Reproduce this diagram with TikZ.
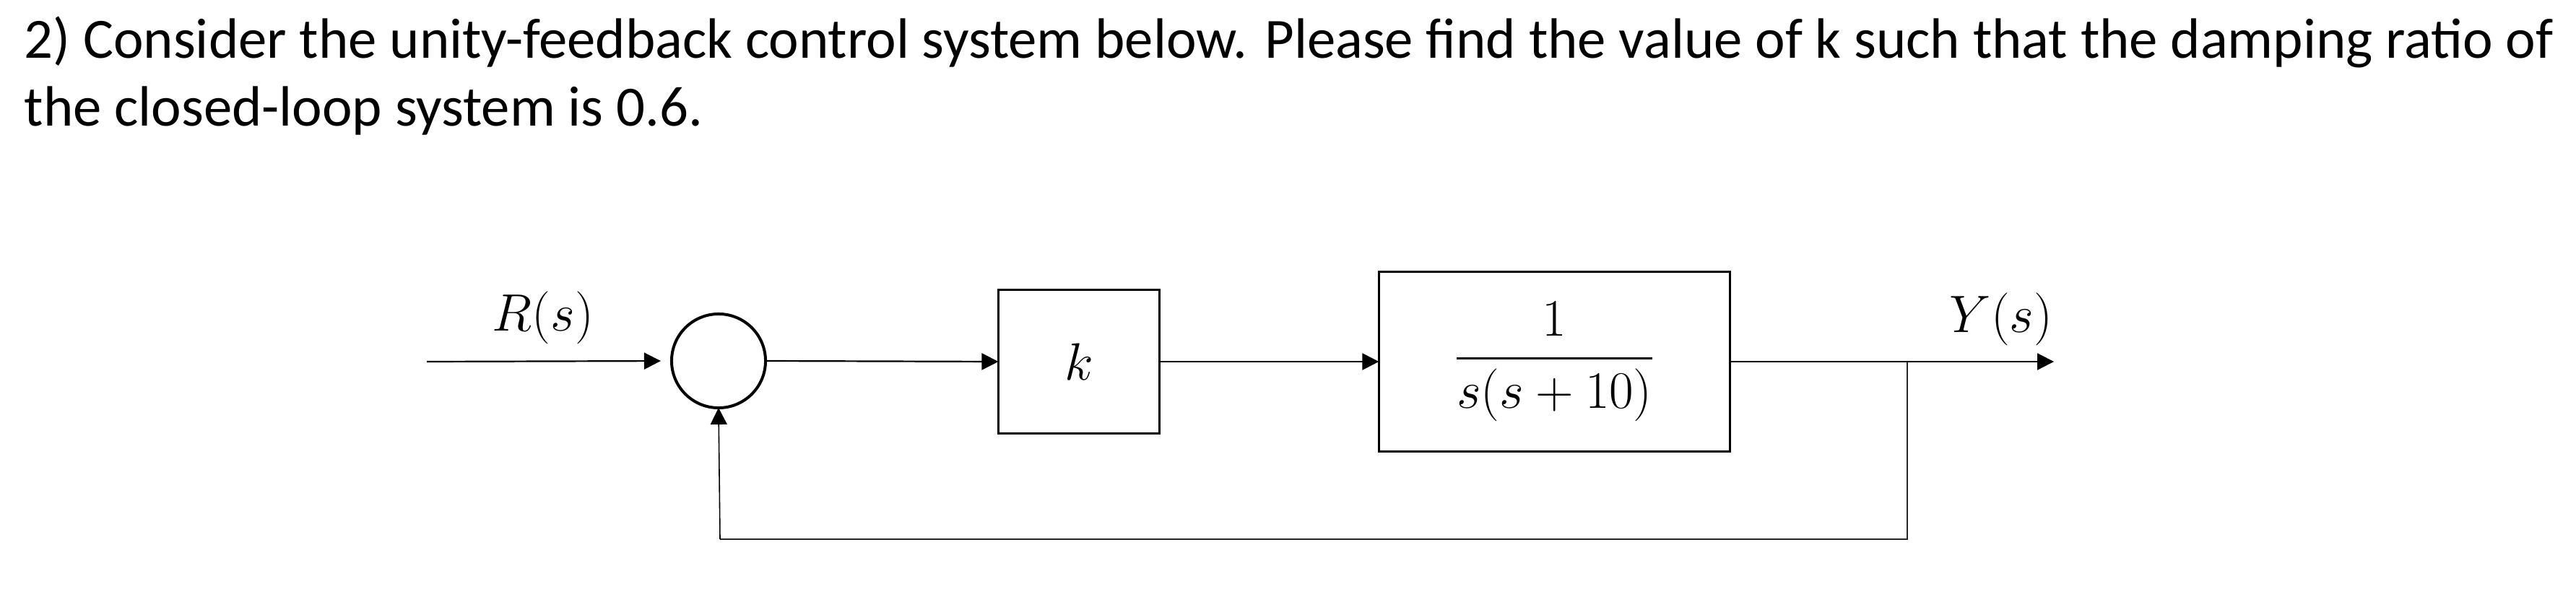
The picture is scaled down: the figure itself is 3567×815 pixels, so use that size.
\documentclass[tikz,border=0pt]{standalone}
\usepackage{amsmath}
\usepackage{fontspec}
\setmainfont{Carlito}
\usetikzlibrary{arrows.meta}
\tikzset{
  blockbox/.style={draw, line width=0.034cm, inner sep=0pt, outer sep=0pt, font=\fontsize{20}{24}\selectfont},
  sumnode/.style={draw, circle, line width=0.04cm, minimum size=1.3cm, inner sep=0pt, outer sep=0pt},
  sig/.style={line width=0.022cm, -{Triangle[length=0.23cm,width=0.23cm]}},
  fb/.style={line width=0.016cm, draw=black!85},
  lbl/.style={font=\fontsize{20}{24}\selectfont, inner sep=0pt, anchor=base},
  title/.style={font=\fontsize{22.4}{27}\selectfont, inner sep=0pt, anchor=base west}
}
\begin{document}
\begin{tikzpicture}[x={(0.01cm,0)}, y={(0,-0.01cm)}]
\useasboundingbox (0,0) rectangle (3567,815);
\node[title] (t1) at (33,80) {2) Consider the unity-feedback control system below. Please find the value of k such that the damping ratio of};
\node[title] (t2) at (33,174) {the closed-loop system is 0.6.};

\coordinate (in) at (591,501);
\node[sumnode] (sum) at (995,500) {};
\node[blockbox, minimum width=2.23cm, minimum height=1.99cm] (kb) at (1494,501) {$k$};
\node[blockbox, minimum width=4.86cm, minimum height=2.49cm] (gb) at (2152.5,501) {$\dfrac{1}{s(s+10)}$};
\coordinate (br) at (2641,501);
\coordinate (out) at (2844,501);
\coordinate (c1) at (2641,747);
\coordinate (c2) at (997,747);

\node[lbl] (rl) at (752,458) {$R(s)$};
\node[lbl] (yl) at (2771,460) {$Y(s)$};

\draw[sig, shorten >=0.15cm] (in) -- (sum.west);
\draw[sig] (sum.east) -- (kb.west);
\draw[sig] (kb.east) -- (gb.west);
\draw[sig] (gb.east) -- (out);
\draw[fb] (br) -- (c1) -- (c2);
\draw[sig, line width=0.016cm] (c2) -- (sum.south);
\end{tikzpicture}
\end{document}
